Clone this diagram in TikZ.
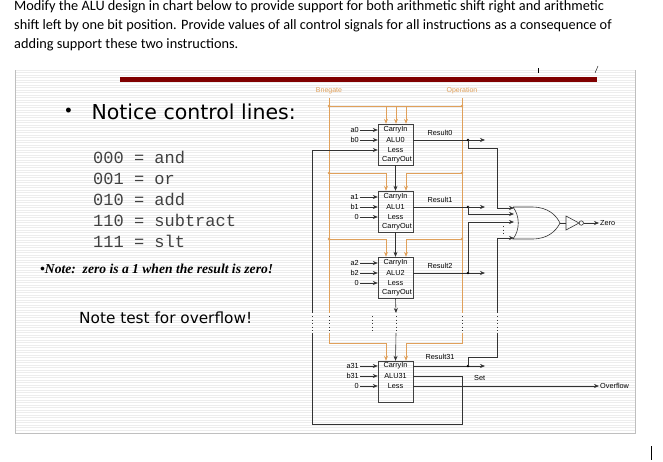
\documentclass[tikz,border=0pt]{standalone}
\usepackage{fontspec}
\setmainfont{Liberation Sans}
\newfontfamily\taskfont{Carlito}
\newfontfamily\slidefont{DejaVu Sans}
\newfontfamily\codefont{Liberation Mono}
\newfontfamily\notefont{Liberation Serif}
\usepackage{tikz}
\usetikzlibrary{arrows.meta, positioning, calc}
\definecolor{ctrlorange}{RGB}{224,160,90}
\definecolor{barred}{RGB}{128,0,0}
\tikzstyle{alubox} = [draw=black!75, minimum width=35pt, minimum height=41pt, inner sep=0pt]
\tikzstyle{sig} = [font=\fontsize{7.3}{8}\selectfont, inner sep=1pt]
\tikzstyle{wire} = [black!80, line width=0.6pt]
\tikzstyle{arrow} = [wire, -{Stealth[length=5pt,width=4pt]}]
\tikzstyle{ctrl} = [ctrlorange, line width=0.7pt]
\tikzstyle{ctrlarrow} = [ctrl, -{Stealth[length=5pt,width=4pt]}]
\tikzstyle{gap} = [black!80, line width=0.9pt, dash pattern=on 1pt off 2.5pt]

\begin{document}
\begin{tikzpicture}[x=1pt, y=-1pt]
\useasboundingbox (0,0) rectangle (663,461);

% question text
\node (task) [anchor=north west, align=left, inner sep=0pt, font=\taskfont\fontsize{14.3}{19.3}\selectfont] at (14,0)
  {Modify the ALU design in chart below to provide support for both arithmetic shift right and arithmetic\\
   shift left by one bit position. Provide values of all control signals for all instructions as a consequence of\\
   adding support these two instructions.};

% slide
\foreach \y in {70,72.5,...,432} \draw[black!7, line width=0.4pt] (15,\y) -- (635,\y);
\draw[black!25] (15,70) -- (15,433) -- (635,433) -- (635,70);
\fill[barred] (120,77) rectangle (597,82);
\draw (538,68) -- (538,73);
\draw (595,73) -- (598,66);
\draw[line width=0.8pt] (651,446) -- (651,460);

\node (notice) [anchor=west, font=\slidefont\fontsize{20.5}{22}\selectfont] at (88,112) {Notice control lines:};
\node (bullet) [left=16pt of notice, font=\fontsize{18}{18}\selectfont, inner sep=0pt] {\textbullet};
\node (codes) [anchor=north west, align=left, inner sep=0pt, font=\codefont\fontsize{17}{21}\selectfont, black!75] at (93,151)
  {000 = and\\001 = or\\010 = add\\110 = subtract\\111 = slt};
\node (zeronote) [anchor=west, inner sep=0pt, font=\notefont\bfseries\itshape\fontsize{13.6}{15}\selectfont] at (40,269)
  {\textbullet Note:\ \ zero is a 1 when the result is zero!};
\node (ovfnote) [anchor=west, inner sep=0pt, font=\slidefont\fontsize{15.3}{17}\selectfont] at (79,318) {Note test for overflow!};

% control lines
\node (bneg) [ctrlorange, font=\fontsize{7}{8}\selectfont] at (329,91) {Bnegate};
\node (oper) [ctrlorange, font=\fontsize{7}{8}\selectfont] at (462,91) {Operation};
\draw[ctrl] (329,98) -- (329,313) (329,333) -- (329,343) -- (386,343);
\draw[ctrl] (462,98) -- (462,313) (462,333) -- (462,343) -- (406,343);
\draw[ctrl] (329,106) -- (462,106);

% ALU slices
\foreach \i/\t in {0/124,1/191,2/257} {
  \node (alu\i) [alubox] at (395.5,\t+20.5) {};
  \node[sig] at (395.5,\t+6) {CarryIn};
  \node[sig] at (395.5,\t+16) {ALU\i};
  \node[sig] at (395.5,\t+26) {Less};
  \node[sig] at (397,\t+36) {CarryOut};
  \node (a\i) [sig, anchor=east] at (360,\t+6) {a\i};
  \node (b\i) [sig, anchor=east] at (360,\t+16) {b\i};
  \draw[arrow] (a\i.east) -- (a\i.east -| alu\i.west);
  \draw[arrow] (b\i.east) -- (b\i.east -| alu\i.west);
  \coordinate (res\i) at (alu\i.east |- 0,\t+16);
  \draw[arrow] (res\i) -- (485,\t+16);
  \fill (468,\t+16) circle (1.4pt);
  \node (rlab\i) [sig] at (440,\t+9) {Result\i};
}
\foreach \i/\t in {1/191,2/257} {
  \node (zero\i) [sig, anchor=east] at (360,\t+26) {0};
  \draw[arrow] (zero\i.east) -- (zero\i.east -| alu\i.west);
  \draw[ctrl] (329,\t-18) -- (386,\t-18);
  \draw[ctrl] (462,\t-18) -- (406,\t-18);
  \draw[ctrlarrow] (386,\t-18) -- (alu\i.north -| 386,0);
  \draw[ctrlarrow] (406,\t-18) -- (alu\i.north -| 406,0);
  \fill[ctrlorange] (329,\t-18) circle (1.4pt) (462,\t-18) circle (1.4pt);
}
\foreach \x in {386,396,406} \draw[ctrlarrow] (\x,106) -- (alu0.north -| \x,0);
\fill[ctrlorange] (329,106) circle (1.4pt) (462,106) circle (1.4pt);
\draw[arrow] (alu0.south) -- (alu1.north);
\draw[arrow] (alu1.south) -- (alu2.north);

% last slice
\node (alu31) [alubox] at (395.5,381.5) {};
\node[sig] at (395.5,366) {CarryIn};
\node[sig] at (395.5,376) {ALU31};
\node[sig] at (395.5,386) {Less};
\node (a31) [sig, anchor=east] at (360,366) {a31};
\node (b31) [sig, anchor=east] at (360,376) {b31};
\node (zero31) [sig, anchor=east] at (360,386) {0};
\foreach \n in {a31,b31,zero31} \draw[arrow] (\n.east) -- (\n.east -| alu31.west);
\draw[ctrlarrow] (386,343) -- (alu31.north -| 386,0);
\draw[ctrlarrow] (406,343) -- (alu31.north -| 406,0);
\draw[arrow] (alu2.south) -- (396,313);
\draw[arrow] (396,333) -- (alu31.north);
\coordinate (res31) at (alu31.east |- 0,366);
\draw[arrow] (res31) -- (485,366);
\node (rlab31) [sig] at (440,357) {Result31};
\fill (468,366) circle (1.4pt);
\node (setlab) [sig, anchor=west] at (473,378) {Set};
\node (ovf) [sig, anchor=west] at (599,386) {Overflow};
\draw[arrow] (alu31.east |- 0,386) -- (ovf.west);

% set feeds less of slice 0
\coordinate (lessin) at (alu0.west |- 0,150);
\draw[wire] (alu31.east |- 0,376) -- (462,376) -- (462,424) -- (312,424) -- (312,333);
\draw[arrow] (312,313) -- (312,150) -- (lessin);

% zero detection
\coordinate (or1) at (514,208);
\coordinate (or2) at (514,214);
\coordinate (or3) at (514,222);
\coordinate (or4) at (514,238);
\draw[wire] (513,207) -- (532,207) .. controls (548,207) and (556,215) .. (560,223)
  .. controls (556,231) and (548,239) .. (532,239) -- (513,239)
  .. controls (520,230) and (520,216) .. (513,207);
\draw[arrow] (468,140) -- (468,148) -- (497,148) -- (497,208) -- (or1);
\draw[arrow] (468,206) -- (468,214) -- (or2);
\draw[arrow] (468,272) -- (468,222) -- (or3);
\draw[arrow] (497,313) -- (497,238) -- (or4);
\draw[wire] (497,333) -- (497,357) -- (468,357) -- (468,366);
\draw[wire] (560,223) -- (566,223);
\draw[wire] (566,216) -- (579,223) -- (566,230) -- cycle;
\draw[wire] (581.3,223) circle (2.2pt);
\node (zerolab) [sig, anchor=west] at (599,223) {Zero};
\draw[arrow] (583.5,223) -- (zerolab.west);

% ellipses
\foreach \x in {312,329,372,396,462,497} \draw[gap] (\x,316) -- (\x,331);
\draw[gap] (503,226) -- (503,235);
\end{tikzpicture}
\end{document}
